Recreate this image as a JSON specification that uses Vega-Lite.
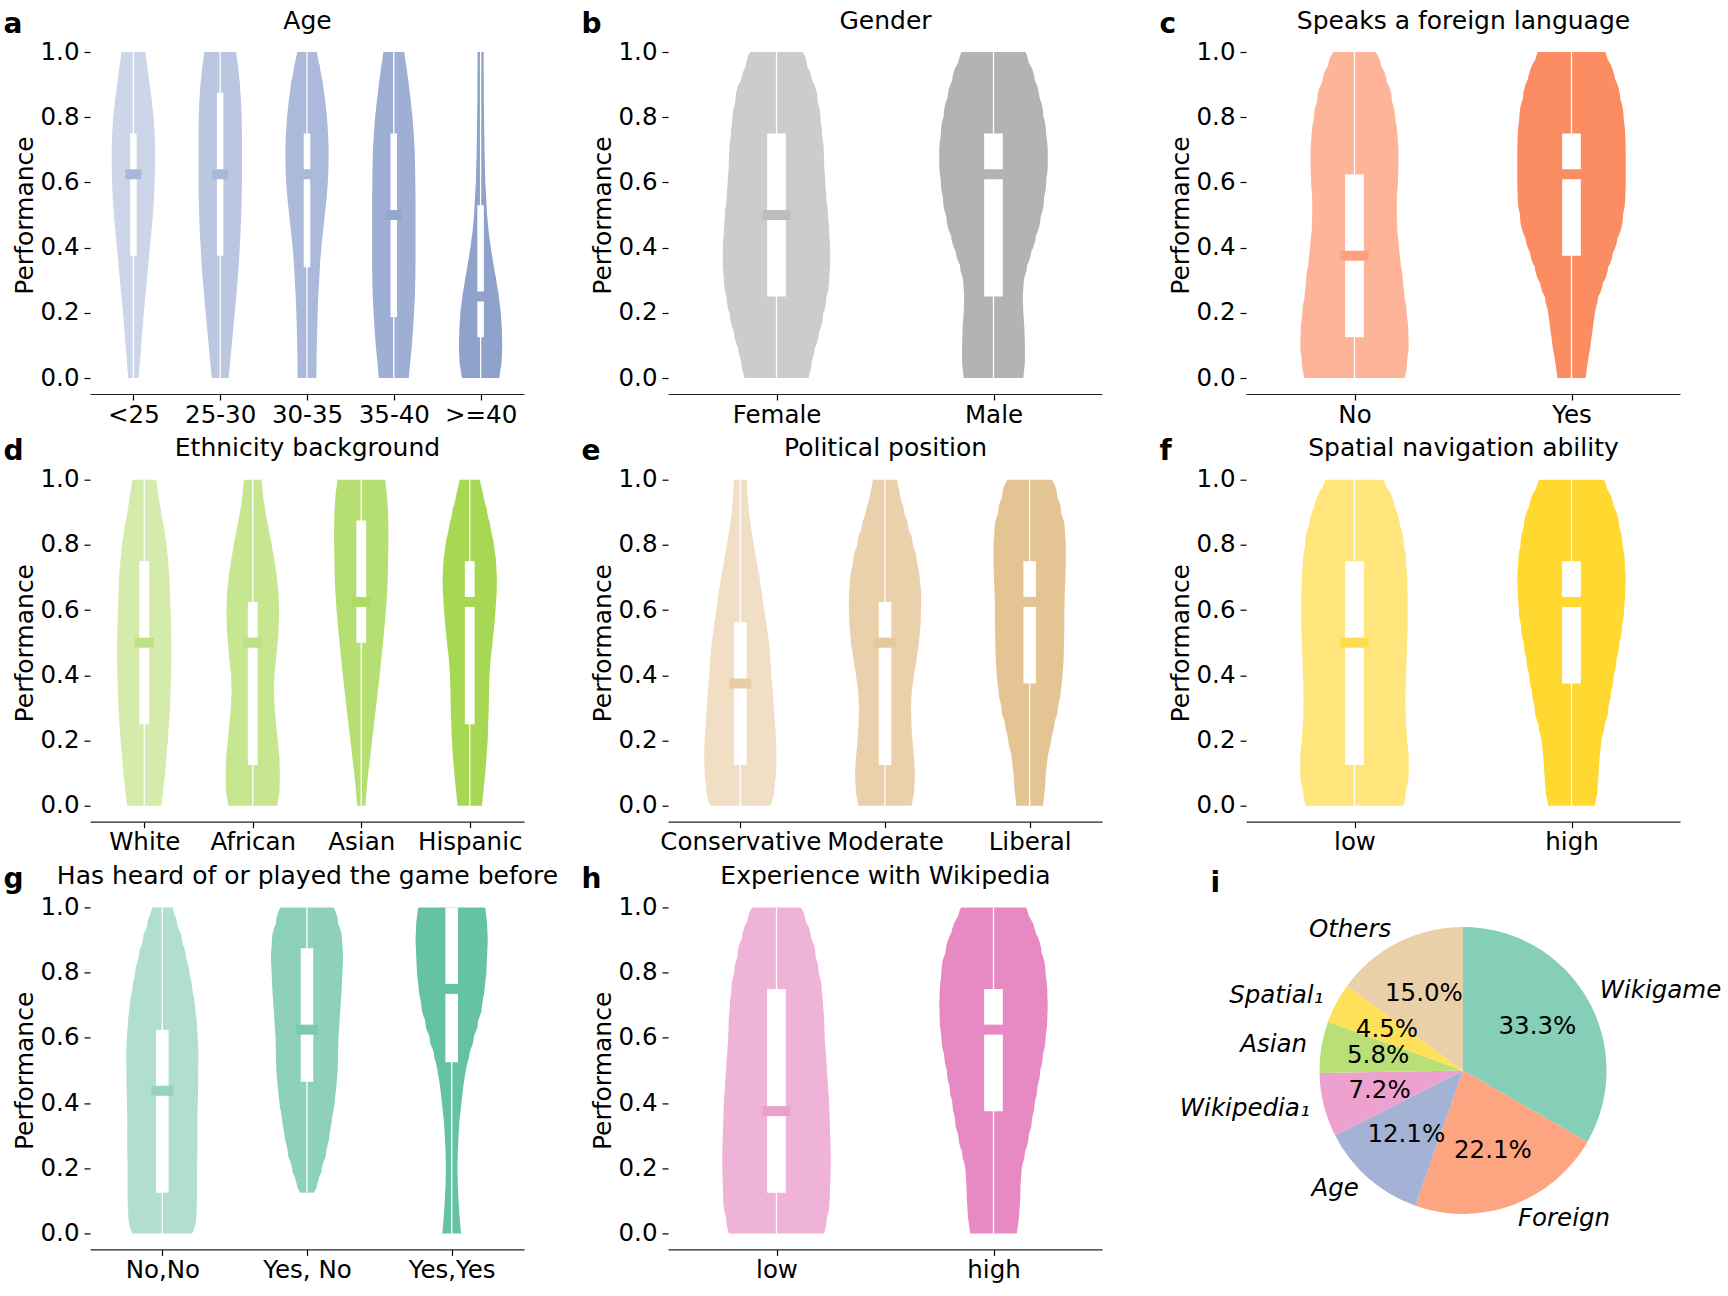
{
"$schema": "https://vega.github.io/schema/vega-lite/v6.json",
"background": "white",
"padding": {"left": 3, "top": 8, "right": 0, "bottom": 10},
"columns": 3,
"spacing": {"row": 101.7, "column": 144},
"bounds": "flush",
"resolve": {"scale": {"size": "independent", "color": "independent"}},
"config": {
 "font": "DejaVu Sans",
 "view": {"stroke": null},
 "axis": {"grid": false, "labelFontSize": 24.5, "titleFontSize": 25, "labelColor": "black", "titleColor": "black", "titleFontWeight": "normal", "tickColor": "black", "domainColor": "#222222", "tickSize": 6, "tickWidth": 1.2, "domainWidth": 1.2, "labelFont": "DejaVu Sans", "titleFont": "DejaVu Sans"},
 "title": {"font": "DejaVu Sans", "color": "black"},
 "text": {"font": "DejaVu Sans"}
},
"datasets": {
 "va": [
  {"c":"<25","v":0,"w":0.24},{"c":"<25","v":0.05,"w":0.3},{"c":"<25","v":0.1,"w":0.36},{"c":"<25","v":0.15,"w":0.42},{"c":"<25","v":0.2,"w":0.48},{"c":"<25","v":0.25,"w":0.55},{"c":"<25","v":0.3,"w":0.62},{"c":"<25","v":0.35,"w":0.69},{"c":"<25","v":0.4,"w":0.76},{"c":"<25","v":0.45,"w":0.83},{"c":"<25","v":0.5,"w":0.9},{"c":"<25","v":0.55,"w":0.95},{"c":"<25","v":0.6,"w":0.98},{"c":"<25","v":0.65,"w":1.0},{"c":"<25","v":0.7,"w":1.0},{"c":"<25","v":0.75,"w":0.98},{"c":"<25","v":0.8,"w":0.93},{"c":"<25","v":0.85,"w":0.85},{"c":"<25","v":0.9,"w":0.75},{"c":"<25","v":0.95,"w":0.65},{"c":"<25","v":1,"w":0.55},
  {"c":"25-30","v":0,"w":0.39},{"c":"25-30","v":0.05,"w":0.46},{"c":"25-30","v":0.1,"w":0.53},{"c":"25-30","v":0.15,"w":0.6},{"c":"25-30","v":0.2,"w":0.67},{"c":"25-30","v":0.25,"w":0.74},{"c":"25-30","v":0.3,"w":0.8},{"c":"25-30","v":0.35,"w":0.86},{"c":"25-30","v":0.4,"w":0.9},{"c":"25-30","v":0.45,"w":0.94},{"c":"25-30","v":0.5,"w":0.97},{"c":"25-30","v":0.55,"w":0.99},{"c":"25-30","v":0.6,"w":1.0},{"c":"25-30","v":0.65,"w":1.0},{"c":"25-30","v":0.7,"w":1.0},{"c":"25-30","v":0.75,"w":1.0},{"c":"25-30","v":0.8,"w":0.99},{"c":"25-30","v":0.85,"w":0.96},{"c":"25-30","v":0.9,"w":0.91},{"c":"25-30","v":0.95,"w":0.83},{"c":"25-30","v":1,"w":0.73},
  {"c":"30-35","v":0,"w":0.43},{"c":"30-35","v":0.05,"w":0.44},{"c":"30-35","v":0.1,"w":0.45},{"c":"30-35","v":0.15,"w":0.47},{"c":"30-35","v":0.2,"w":0.49},{"c":"30-35","v":0.25,"w":0.52},{"c":"30-35","v":0.3,"w":0.56},{"c":"30-35","v":0.35,"w":0.6},{"c":"30-35","v":0.4,"w":0.66},{"c":"30-35","v":0.45,"w":0.74},{"c":"30-35","v":0.5,"w":0.82},{"c":"30-35","v":0.55,"w":0.9},{"c":"30-35","v":0.6,"w":0.96},{"c":"30-35","v":0.65,"w":0.99},{"c":"30-35","v":0.7,"w":1.0},{"c":"30-35","v":0.75,"w":0.97},{"c":"30-35","v":0.8,"w":0.92},{"c":"30-35","v":0.85,"w":0.84},{"c":"30-35","v":0.9,"w":0.74},{"c":"30-35","v":0.95,"w":0.6},{"c":"30-35","v":1,"w":0.45},
  {"c":"35-40","v":0,"w":0.69},{"c":"35-40","v":0.05,"w":0.76},{"c":"35-40","v":0.1,"w":0.83},{"c":"35-40","v":0.15,"w":0.89},{"c":"35-40","v":0.2,"w":0.93},{"c":"35-40","v":0.25,"w":0.97},{"c":"35-40","v":0.3,"w":0.99},{"c":"35-40","v":0.35,"w":1.0},{"c":"35-40","v":0.4,"w":1.0},{"c":"35-40","v":0.45,"w":1.0},{"c":"35-40","v":0.5,"w":1.0},{"c":"35-40","v":0.55,"w":1.0},{"c":"35-40","v":0.6,"w":0.99},{"c":"35-40","v":0.65,"w":0.98},{"c":"35-40","v":0.7,"w":0.96},{"c":"35-40","v":0.75,"w":0.92},{"c":"35-40","v":0.8,"w":0.86},{"c":"35-40","v":0.85,"w":0.78},{"c":"35-40","v":0.9,"w":0.69},{"c":"35-40","v":0.95,"w":0.59},{"c":"35-40","v":1,"w":0.48},
  {"c":">=40","v":0,"w":0.86},{"c":">=40","v":0.05,"w":0.97},{"c":">=40","v":0.1,"w":1.0},{"c":">=40","v":0.15,"w":0.98},{"c":">=40","v":0.2,"w":0.93},{"c":">=40","v":0.25,"w":0.84},{"c":">=40","v":0.3,"w":0.72},{"c":">=40","v":0.35,"w":0.59},{"c":">=40","v":0.4,"w":0.47},{"c":">=40","v":0.45,"w":0.37},{"c":">=40","v":0.5,"w":0.3},{"c":">=40","v":0.55,"w":0.26},{"c":">=40","v":0.6,"w":0.22},{"c":">=40","v":0.65,"w":0.2},{"c":">=40","v":0.7,"w":0.18},{"c":">=40","v":0.75,"w":0.17},{"c":">=40","v":0.8,"w":0.16},{"c":">=40","v":0.85,"w":0.15},{"c":">=40","v":0.9,"w":0.15},{"c":">=40","v":0.95,"w":0.14},{"c":">=40","v":1,"w":0.14}
 ],
 "sa": [
  {"c":"<25","lo":0,"q1":0.375,"med":0.625,"q3":0.75,"hi":1},
  {"c":"25-30","lo":0,"q1":0.375,"med":0.625,"q3":0.875,"hi":1},
  {"c":"30-35","lo":0,"q1":0.34,"med":0.625,"q3":0.75,"hi":1},
  {"c":"35-40","lo":0,"q1":0.1875,"med":0.5,"q3":0.75,"hi":1},
  {"c":">=40","lo":0,"q1":0.125,"med":0.25,"q3":0.53,"hi":1}
 ],
 "vb": [
  {"c":"Female","v":0,"w":0.59},{"c":"Female","v":0.05,"w":0.65},{"c":"Female","v":0.1,"w":0.71},{"c":"Female","v":0.15,"w":0.79},{"c":"Female","v":0.2,"w":0.86},{"c":"Female","v":0.25,"w":0.92},{"c":"Female","v":0.3,"w":0.97},{"c":"Female","v":0.35,"w":0.99},{"c":"Female","v":0.4,"w":0.99},{"c":"Female","v":0.45,"w":0.97},{"c":"Female","v":0.5,"w":0.95},{"c":"Female","v":0.55,"w":0.92},{"c":"Female","v":0.6,"w":0.9},{"c":"Female","v":0.65,"w":0.88},{"c":"Female","v":0.7,"w":0.87},{"c":"Female","v":0.75,"w":0.84},{"c":"Female","v":0.8,"w":0.81},{"c":"Female","v":0.85,"w":0.76},{"c":"Female","v":0.9,"w":0.66},{"c":"Female","v":0.95,"w":0.57},{"c":"Female","v":1,"w":0.47},
  {"c":"Male","v":0,"w":0.55},{"c":"Male","v":0.05,"w":0.58},{"c":"Male","v":0.1,"w":0.58},{"c":"Male","v":0.15,"w":0.57},{"c":"Male","v":0.2,"w":0.55},{"c":"Male","v":0.25,"w":0.54},{"c":"Male","v":0.3,"w":0.56},{"c":"Male","v":0.35,"w":0.62},{"c":"Male","v":0.4,"w":0.7},{"c":"Male","v":0.45,"w":0.79},{"c":"Male","v":0.5,"w":0.87},{"c":"Male","v":0.55,"w":0.93},{"c":"Male","v":0.6,"w":0.97},{"c":"Male","v":0.65,"w":1.0},{"c":"Male","v":0.7,"w":1.0},{"c":"Male","v":0.75,"w":0.97},{"c":"Male","v":0.8,"w":0.92},{"c":"Male","v":0.85,"w":0.85},{"c":"Male","v":0.9,"w":0.77},{"c":"Male","v":0.95,"w":0.66},{"c":"Male","v":1,"w":0.54}
 ],
 "sb": [
  {"c":"Female","lo":0,"q1":0.25,"med":0.5,"q3":0.75,"hi":1},
  {"c":"Male","lo":0,"q1":0.25,"med":0.625,"q3":0.75,"hi":1}
 ],
 "vc": [
  {"c":"No","v":0,"w":0.88},{"c":"No","v":0.05,"w":0.97},{"c":"No","v":0.1,"w":1.0},{"c":"No","v":0.15,"w":0.99},{"c":"No","v":0.2,"w":0.96},{"c":"No","v":0.25,"w":0.92},{"c":"No","v":0.3,"w":0.89},{"c":"No","v":0.35,"w":0.85},{"c":"No","v":0.4,"w":0.82},{"c":"No","v":0.45,"w":0.79},{"c":"No","v":0.5,"w":0.78},{"c":"No","v":0.55,"w":0.78},{"c":"No","v":0.6,"w":0.8},{"c":"No","v":0.65,"w":0.81},{"c":"No","v":0.7,"w":0.81},{"c":"No","v":0.75,"w":0.79},{"c":"No","v":0.8,"w":0.75},{"c":"No","v":0.85,"w":0.69},{"c":"No","v":0.9,"w":0.6},{"c":"No","v":0.95,"w":0.49},{"c":"No","v":1,"w":0.36},
  {"c":"Yes","v":0,"w":0.26},{"c":"Yes","v":0.05,"w":0.3},{"c":"Yes","v":0.1,"w":0.35},{"c":"Yes","v":0.15,"w":0.39},{"c":"Yes","v":0.2,"w":0.43},{"c":"Yes","v":0.25,"w":0.49},{"c":"Yes","v":0.3,"w":0.58},{"c":"Yes","v":0.35,"w":0.68},{"c":"Yes","v":0.4,"w":0.77},{"c":"Yes","v":0.45,"w":0.86},{"c":"Yes","v":0.5,"w":0.95},{"c":"Yes","v":0.55,"w":0.99},{"c":"Yes","v":0.6,"w":1.0},{"c":"Yes","v":0.65,"w":1.0},{"c":"Yes","v":0.7,"w":1.0},{"c":"Yes","v":0.75,"w":0.99},{"c":"Yes","v":0.8,"w":0.96},{"c":"Yes","v":0.85,"w":0.9},{"c":"Yes","v":0.9,"w":0.81},{"c":"Yes","v":0.95,"w":0.69},{"c":"Yes","v":1,"w":0.54}
 ],
 "sc": [
  {"c":"No","lo":0,"q1":0.125,"med":0.375,"q3":0.625,"hi":1},
  {"c":"Yes","lo":0,"q1":0.375,"med":0.625,"q3":0.75,"hi":1}
 ],
 "vd": [
  {"c":"White","v":0,"w":0.63},{"c":"White","v":0.05,"w":0.7},{"c":"White","v":0.1,"w":0.77},{"c":"White","v":0.15,"w":0.82},{"c":"White","v":0.2,"w":0.87},{"c":"White","v":0.25,"w":0.91},{"c":"White","v":0.3,"w":0.95},{"c":"White","v":0.35,"w":0.97},{"c":"White","v":0.4,"w":0.99},{"c":"White","v":0.45,"w":1.0},{"c":"White","v":0.5,"w":1.0},{"c":"White","v":0.55,"w":0.99},{"c":"White","v":0.6,"w":0.97},{"c":"White","v":0.65,"w":0.95},{"c":"White","v":0.7,"w":0.93},{"c":"White","v":0.75,"w":0.88},{"c":"White","v":0.8,"w":0.82},{"c":"White","v":0.85,"w":0.73},{"c":"White","v":0.9,"w":0.62},{"c":"White","v":0.95,"w":0.53},{"c":"White","v":1,"w":0.44},
  {"c":"African","v":0,"w":0.9},{"c":"African","v":0.05,"w":0.99},{"c":"African","v":0.1,"w":1.0},{"c":"African","v":0.15,"w":0.98},{"c":"African","v":0.2,"w":0.92},{"c":"African","v":0.25,"w":0.86},{"c":"African","v":0.3,"w":0.81},{"c":"African","v":0.35,"w":0.78},{"c":"African","v":0.4,"w":0.8},{"c":"African","v":0.45,"w":0.86},{"c":"African","v":0.5,"w":0.92},{"c":"African","v":0.55,"w":0.96},{"c":"African","v":0.6,"w":0.97},{"c":"African","v":0.65,"w":0.95},{"c":"African","v":0.7,"w":0.89},{"c":"African","v":0.75,"w":0.8},{"c":"African","v":0.8,"w":0.7},{"c":"African","v":0.85,"w":0.58},{"c":"African","v":0.9,"w":0.47},{"c":"African","v":0.95,"w":0.38},{"c":"African","v":1,"w":0.33},
  {"c":"Asian","v":0,"w":0.15},{"c":"Asian","v":0.05,"w":0.2},{"c":"Asian","v":0.1,"w":0.26},{"c":"Asian","v":0.15,"w":0.33},{"c":"Asian","v":0.2,"w":0.4},{"c":"Asian","v":0.25,"w":0.47},{"c":"Asian","v":0.3,"w":0.54},{"c":"Asian","v":0.35,"w":0.61},{"c":"Asian","v":0.4,"w":0.68},{"c":"Asian","v":0.45,"w":0.74},{"c":"Asian","v":0.5,"w":0.8},{"c":"Asian","v":0.55,"w":0.86},{"c":"Asian","v":0.6,"w":0.91},{"c":"Asian","v":0.65,"w":0.95},{"c":"Asian","v":0.7,"w":0.98},{"c":"Asian","v":0.75,"w":0.99},{"c":"Asian","v":0.8,"w":1.0},{"c":"Asian","v":0.85,"w":1.0},{"c":"Asian","v":0.9,"w":0.99},{"c":"Asian","v":0.95,"w":0.95},{"c":"Asian","v":1,"w":0.88},
  {"c":"Hispanic","v":0,"w":0.45},{"c":"Hispanic","v":0.05,"w":0.51},{"c":"Hispanic","v":0.1,"w":0.57},{"c":"Hispanic","v":0.15,"w":0.62},{"c":"Hispanic","v":0.2,"w":0.66},{"c":"Hispanic","v":0.25,"w":0.68},{"c":"Hispanic","v":0.3,"w":0.7},{"c":"Hispanic","v":0.35,"w":0.71},{"c":"Hispanic","v":0.4,"w":0.73},{"c":"Hispanic","v":0.45,"w":0.77},{"c":"Hispanic","v":0.5,"w":0.84},{"c":"Hispanic","v":0.55,"w":0.9},{"c":"Hispanic","v":0.6,"w":0.95},{"c":"Hispanic","v":0.65,"w":0.99},{"c":"Hispanic","v":0.7,"w":1.0},{"c":"Hispanic","v":0.75,"w":0.97},{"c":"Hispanic","v":0.8,"w":0.89},{"c":"Hispanic","v":0.85,"w":0.77},{"c":"Hispanic","v":0.9,"w":0.64},{"c":"Hispanic","v":0.95,"w":0.5},{"c":"Hispanic","v":1,"w":0.37}
 ],
 "sd": [
  {"c":"White","lo":0,"q1":0.25,"med":0.5,"q3":0.75,"hi":1},
  {"c":"African","lo":0,"q1":0.125,"med":0.5,"q3":0.625,"hi":1},
  {"c":"Asian","lo":0,"q1":0.5,"med":0.625,"q3":0.875,"hi":1},
  {"c":"Hispanic","lo":0,"q1":0.25,"med":0.625,"q3":0.75,"hi":1}
 ],
 "ve": [
  {"c":"Conservative","v":0,"w":0.77},{"c":"Conservative","v":0.05,"w":0.94},{"c":"Conservative","v":0.1,"w":0.99},{"c":"Conservative","v":0.15,"w":1.0},{"c":"Conservative","v":0.2,"w":0.99},{"c":"Conservative","v":0.25,"w":0.96},{"c":"Conservative","v":0.3,"w":0.93},{"c":"Conservative","v":0.35,"w":0.9},{"c":"Conservative","v":0.4,"w":0.86},{"c":"Conservative","v":0.45,"w":0.83},{"c":"Conservative","v":0.5,"w":0.79},{"c":"Conservative","v":0.55,"w":0.73},{"c":"Conservative","v":0.6,"w":0.66},{"c":"Conservative","v":0.65,"w":0.6},{"c":"Conservative","v":0.7,"w":0.53},{"c":"Conservative","v":0.75,"w":0.45},{"c":"Conservative","v":0.8,"w":0.37},{"c":"Conservative","v":0.85,"w":0.3},{"c":"Conservative","v":0.9,"w":0.24},{"c":"Conservative","v":0.95,"w":0.2},{"c":"Conservative","v":1,"w":0.18},
  {"c":"Moderate","v":0,"w":0.74},{"c":"Moderate","v":0.05,"w":0.81},{"c":"Moderate","v":0.1,"w":0.83},{"c":"Moderate","v":0.15,"w":0.8},{"c":"Moderate","v":0.2,"w":0.76},{"c":"Moderate","v":0.25,"w":0.73},{"c":"Moderate","v":0.3,"w":0.72},{"c":"Moderate","v":0.35,"w":0.74},{"c":"Moderate","v":0.4,"w":0.8},{"c":"Moderate","v":0.45,"w":0.87},{"c":"Moderate","v":0.5,"w":0.94},{"c":"Moderate","v":0.55,"w":0.98},{"c":"Moderate","v":0.6,"w":1.0},{"c":"Moderate","v":0.65,"w":1.0},{"c":"Moderate","v":0.7,"w":0.96},{"c":"Moderate","v":0.75,"w":0.88},{"c":"Moderate","v":0.8,"w":0.77},{"c":"Moderate","v":0.85,"w":0.65},{"c":"Moderate","v":0.9,"w":0.53},{"c":"Moderate","v":0.95,"w":0.42},{"c":"Moderate","v":1,"w":0.33},
  {"c":"Liberal","v":0,"w":0.37},{"c":"Liberal","v":0.05,"w":0.42},{"c":"Liberal","v":0.1,"w":0.45},{"c":"Liberal","v":0.15,"w":0.5},{"c":"Liberal","v":0.2,"w":0.59},{"c":"Liberal","v":0.25,"w":0.68},{"c":"Liberal","v":0.3,"w":0.78},{"c":"Liberal","v":0.35,"w":0.86},{"c":"Liberal","v":0.4,"w":0.91},{"c":"Liberal","v":0.45,"w":0.94},{"c":"Liberal","v":0.5,"w":0.95},{"c":"Liberal","v":0.55,"w":0.96},{"c":"Liberal","v":0.6,"w":0.96},{"c":"Liberal","v":0.65,"w":0.97},{"c":"Liberal","v":0.7,"w":0.99},{"c":"Liberal","v":0.75,"w":1.0},{"c":"Liberal","v":0.8,"w":1.0},{"c":"Liberal","v":0.85,"w":0.97},{"c":"Liberal","v":0.9,"w":0.87},{"c":"Liberal","v":0.95,"w":0.76},{"c":"Liberal","v":1,"w":0.6}
 ],
 "se": [
  {"c":"Conservative","lo":0,"q1":0.125,"med":0.375,"q3":0.5625,"hi":1},
  {"c":"Moderate","lo":0,"q1":0.125,"med":0.5,"q3":0.625,"hi":1},
  {"c":"Liberal","lo":0,"q1":0.375,"med":0.625,"q3":0.75,"hi":1}
 ],
 "vf": [
  {"c":"low","v":0,"w":0.82},{"c":"low","v":0.05,"w":0.95},{"c":"low","v":0.1,"w":1.0},{"c":"low","v":0.15,"w":1.0},{"c":"low","v":0.2,"w":0.97},{"c":"low","v":0.25,"w":0.95},{"c":"low","v":0.3,"w":0.94},{"c":"low","v":0.35,"w":0.94},{"c":"low","v":0.4,"w":0.95},{"c":"low","v":0.45,"w":0.96},{"c":"low","v":0.5,"w":0.97},{"c":"low","v":0.55,"w":0.98},{"c":"low","v":0.6,"w":0.98},{"c":"low","v":0.65,"w":0.98},{"c":"low","v":0.7,"w":0.97},{"c":"low","v":0.75,"w":0.95},{"c":"low","v":0.8,"w":0.91},{"c":"low","v":0.85,"w":0.84},{"c":"low","v":0.9,"w":0.75},{"c":"low","v":0.95,"w":0.61},{"c":"low","v":1,"w":0.46},
  {"c":"high","v":0,"w":0.43},{"c":"high","v":0.05,"w":0.48},{"c":"high","v":0.1,"w":0.5},{"c":"high","v":0.15,"w":0.52},{"c":"high","v":0.2,"w":0.55},{"c":"high","v":0.25,"w":0.61},{"c":"high","v":0.3,"w":0.68},{"c":"high","v":0.35,"w":0.73},{"c":"high","v":0.4,"w":0.78},{"c":"high","v":0.45,"w":0.83},{"c":"high","v":0.5,"w":0.88},{"c":"high","v":0.55,"w":0.93},{"c":"high","v":0.6,"w":0.97},{"c":"high","v":0.65,"w":0.99},{"c":"high","v":0.7,"w":1.0},{"c":"high","v":0.75,"w":0.98},{"c":"high","v":0.8,"w":0.94},{"c":"high","v":0.85,"w":0.88},{"c":"high","v":0.9,"w":0.79},{"c":"high","v":0.95,"w":0.67},{"c":"high","v":1,"w":0.54}
 ],
 "sf": [
  {"c":"low","lo":0,"q1":0.125,"med":0.5,"q3":0.75,"hi":1},
  {"c":"high","lo":0,"q1":0.375,"med":0.625,"q3":0.75,"hi":1}
 ],
 "vg": [
  {"c":"No,No","v":0,"w":0.83},{"c":"No,No","v":0.05,"w":0.94},{"c":"No,No","v":0.1,"w":0.96},{"c":"No,No","v":0.15,"w":0.96},{"c":"No,No","v":0.2,"w":0.96},{"c":"No,No","v":0.25,"w":0.97},{"c":"No,No","v":0.3,"w":0.97},{"c":"No,No","v":0.35,"w":0.97},{"c":"No,No","v":0.4,"w":0.98},{"c":"No,No","v":0.45,"w":0.99},{"c":"No,No","v":0.5,"w":0.99},{"c":"No,No","v":0.55,"w":1.0},{"c":"No,No","v":0.6,"w":0.98},{"c":"No,No","v":0.65,"w":0.95},{"c":"No,No","v":0.7,"w":0.9},{"c":"No,No","v":0.75,"w":0.83},{"c":"No,No","v":0.8,"w":0.75},{"c":"No,No","v":0.85,"w":0.65},{"c":"No,No","v":0.9,"w":0.54},{"c":"No,No","v":0.95,"w":0.41},{"c":"No,No","v":1,"w":0.28},
  {"c":"Yes, No","v":0.125,"w":0.2},{"c":"Yes, No","v":0.15,"w":0.28},{"c":"Yes, No","v":0.2,"w":0.41},{"c":"Yes, No","v":0.25,"w":0.53},{"c":"Yes, No","v":0.3,"w":0.62},{"c":"Yes, No","v":0.35,"w":0.69},{"c":"Yes, No","v":0.4,"w":0.76},{"c":"Yes, No","v":0.45,"w":0.81},{"c":"Yes, No","v":0.5,"w":0.85},{"c":"Yes, No","v":0.55,"w":0.86},{"c":"Yes, No","v":0.6,"w":0.87},{"c":"Yes, No","v":0.65,"w":0.9},{"c":"Yes, No","v":0.7,"w":0.93},{"c":"Yes, No","v":0.75,"w":0.96},{"c":"Yes, No","v":0.8,"w":0.98},{"c":"Yes, No","v":0.85,"w":1.0},{"c":"Yes, No","v":0.9,"w":0.97},{"c":"Yes, No","v":0.95,"w":0.86},{"c":"Yes, No","v":1,"w":0.58},
  {"c":"Yes,Yes","v":0,"w":0.26},{"c":"Yes,Yes","v":0.05,"w":0.22},{"c":"Yes,Yes","v":0.1,"w":0.19},{"c":"Yes,Yes","v":0.15,"w":0.17},{"c":"Yes,Yes","v":0.2,"w":0.16},{"c":"Yes,Yes","v":0.25,"w":0.17},{"c":"Yes,Yes","v":0.3,"w":0.19},{"c":"Yes,Yes","v":0.35,"w":0.22},{"c":"Yes,Yes","v":0.4,"w":0.27},{"c":"Yes,Yes","v":0.45,"w":0.32},{"c":"Yes,Yes","v":0.5,"w":0.39},{"c":"Yes,Yes","v":0.55,"w":0.49},{"c":"Yes,Yes","v":0.6,"w":0.61},{"c":"Yes,Yes","v":0.65,"w":0.73},{"c":"Yes,Yes","v":0.7,"w":0.84},{"c":"Yes,Yes","v":0.75,"w":0.91},{"c":"Yes,Yes","v":0.8,"w":0.96},{"c":"Yes,Yes","v":0.85,"w":0.98},{"c":"Yes,Yes","v":0.9,"w":1.0},{"c":"Yes,Yes","v":0.95,"w":0.98},{"c":"Yes,Yes","v":1,"w":0.93}
 ],
 "sg": [
  {"c":"No,No","lo":0,"q1":0.125,"med":0.4375,"q3":0.625,"hi":1},
  {"c":"Yes, No","lo":0.125,"q1":0.465,"med":0.625,"q3":0.875,"hi":1},
  {"c":"Yes,Yes","lo":0,"q1":0.525,"med":0.75,"q3":1,"hi":1}
 ],
 "vh": [
  {"c":"low","v":0,"w":0.78},{"c":"low","v":0.05,"w":0.93},{"c":"low","v":0.1,"w":0.98},{"c":"low","v":0.15,"w":0.99},{"c":"low","v":0.2,"w":1.0},{"c":"low","v":0.25,"w":1.0},{"c":"low","v":0.3,"w":0.99},{"c":"low","v":0.35,"w":0.98},{"c":"low","v":0.4,"w":0.97},{"c":"low","v":0.45,"w":0.95},{"c":"low","v":0.5,"w":0.93},{"c":"low","v":0.55,"w":0.91},{"c":"low","v":0.6,"w":0.89},{"c":"low","v":0.65,"w":0.88},{"c":"low","v":0.7,"w":0.86},{"c":"low","v":0.75,"w":0.83},{"c":"low","v":0.8,"w":0.78},{"c":"low","v":0.85,"w":0.72},{"c":"low","v":0.9,"w":0.64},{"c":"low","v":0.95,"w":0.54},{"c":"low","v":1,"w":0.43},
  {"c":"high","v":0,"w":0.43},{"c":"high","v":0.05,"w":0.47},{"c":"high","v":0.1,"w":0.49},{"c":"high","v":0.15,"w":0.5},{"c":"high","v":0.2,"w":0.52},{"c":"high","v":0.25,"w":0.58},{"c":"high","v":0.3,"w":0.65},{"c":"high","v":0.35,"w":0.71},{"c":"high","v":0.4,"w":0.76},{"c":"high","v":0.45,"w":0.81},{"c":"high","v":0.5,"w":0.86},{"c":"high","v":0.55,"w":0.91},{"c":"high","v":0.6,"w":0.96},{"c":"high","v":0.65,"w":0.99},{"c":"high","v":0.7,"w":1.0},{"c":"high","v":0.75,"w":0.99},{"c":"high","v":0.8,"w":0.96},{"c":"high","v":0.85,"w":0.89},{"c":"high","v":0.9,"w":0.79},{"c":"high","v":0.95,"w":0.67},{"c":"high","v":1,"w":0.53}
 ],
 "sh": [
  {"c":"low","lo":0,"q1":0.125,"med":0.375,"q3":0.75,"hi":1},
  {"c":"high","lo":0,"q1":0.375,"med":0.625,"q3":0.75,"hi":1}
 ],
 "pie": [
  {"label":"Wikigame","share":0.333,"k":1},
  {"label":"Foreign","share":0.221,"k":2},
  {"label":"Age","share":0.121,"k":3},
  {"label":"Wikipedia₁","share":0.072,"k":4},
  {"label":"Asian","share":0.058,"k":5},
  {"label":"Spatial₁","share":0.045,"k":6},
  {"label":"Others","share":0.15,"k":7}
 ]
},
"concat": [
 {
  "width": 434, "height": 326,
  "resolve": {"axis": {"x": "independent"}, "scale": {"color": "independent"}},
  "layer": [
   {"data": {"name": "va"}, "mark": {"type": "trail", "clip": true},
    "encoding": {
     "x": {"field": "c", "type": "nominal", "scale": {"type": "point", "padding": 0.5, "domain": ["<25","25-30","30-35","35-40",">=40"]},
           "axis": {"orient": "bottom", "offset": 16, "labelAngle": 0, "labelPadding": 3, "title": "a", "titleX": -87, "titleY": -362, "titleAlign": "left", "titleBaseline": "alphabetic", "titleAngle": 0, "titleFontSize": 28, "titleFontWeight": "bold"}},
     "y": {"field": "v", "type": "quantitative", "scale": {"domain": [0,1], "nice": false, "zero": false}, "axis": {"title": "Performance", "values": [0,0.2,0.4,0.6,0.8,1], "format": ".1f", "domain": false, "labelPadding": 5, "titlePadding": 3}},
     "size": {"field": "w", "type": "quantitative", "scale": {"domain": [0,1], "range": [0,43.4]}, "legend": null},
     "color": {"field": "c", "type": "nominal", "scale": {"domain": ["<25","25-30","30-35","35-40",">=40"], "range": ["#cdd5e9","#bbc6e0","#abb9da","#9eaed4","#8fa2cb"]}, "legend": null},
     "order": {"field": "v", "type": "quantitative"}
    }},
   {"data": {"name": "sa"}, "mark": {"type": "rule", "color": "white", "strokeWidth": 1.3},
    "encoding": {
     "x": {"field": "c", "type": "nominal", "scale": {"type": "point", "padding": 0.5, "domain": ["<25","25-30","30-35","35-40",">=40"]}, "axis": {"orient": "top", "domain": false, "ticks": false, "labels": false, "title": "Age", "titlePadding": 24, "titleBaseline": "alphabetic"}},
     "y": {"field": "lo", "type": "quantitative", "scale": {"domain": [0,1], "nice": false, "zero": false}, "axis": {"title": "Performance", "values": [0,0.2,0.4,0.6,0.8,1], "format": ".1f", "domain": false, "labelPadding": 5, "titlePadding": 3}}, "y2": {"field": "hi"}}},
   {"data": {"name": "sa"}, "mark": {"type": "bar", "color": "white", "size": 6.5},
    "encoding": {
     "x": {"field": "c", "type": "nominal", "scale": {"type": "point", "padding": 0.5, "domain": ["<25","25-30","30-35","35-40",">=40"]}, "axis": null},
     "y": {"field": "q1", "type": "quantitative", "scale": {"domain": [0,1], "nice": false, "zero": false}, "axis": {"title": "Performance", "values": [0,0.2,0.4,0.6,0.8,1], "format": ".1f", "domain": false, "labelPadding": 5, "titlePadding": 3}}, "y2": {"field": "q3"}}},
   {"data": {"name": "sa"}, "mark": {"type": "tick", "orient": "horizontal", "thickness": 10, "size": 16, "opacity": 1},
    "encoding": {
     "x": {"field": "c", "type": "nominal", "scale": {"type": "point", "padding": 0.5, "domain": ["<25","25-30","30-35","35-40",">=40"]}, "axis": null},
     "y": {"field": "med", "type": "quantitative", "scale": {"domain": [0,1], "nice": false, "zero": false}, "axis": {"title": "Performance", "values": [0,0.2,0.4,0.6,0.8,1], "format": ".1f", "domain": false, "labelPadding": 5, "titlePadding": 3}},
     "color": {"field": "c", "type": "nominal", "scale": {"domain": ["<25","25-30","30-35","35-40",">=40"], "range": ["#a9b7d9","#a9b7d9","#a9b7d9","#94a6cf","#8fa2cb"]}, "legend": null}}}
  ]
 },
 {
  "width": 434, "height": 326,
  "resolve": {"axis": {"x": "independent"}, "scale": {"color": "independent"}},
  "layer": [
   {"data": {"name": "vb"}, "mark": {"type": "trail", "clip": true},
    "encoding": {
     "x": {"field": "c", "type": "nominal", "scale": {"type": "point", "padding": 0.5, "domain": ["Female","Male"]},
           "axis": {"orient": "bottom", "offset": 16, "labelAngle": 0, "labelPadding": 3, "title": "b", "titleX": -87, "titleY": -362, "titleAlign": "left", "titleBaseline": "alphabetic", "titleAngle": 0, "titleFontSize": 28, "titleFontWeight": "bold"}},
     "y": {"field": "v", "type": "quantitative", "scale": {"domain": [0,1], "nice": false, "zero": false}, "axis": {"title": "Performance", "values": [0,0.2,0.4,0.6,0.8,1], "format": ".1f", "domain": false, "labelPadding": 5, "titlePadding": 3}},
     "size": {"field": "w", "type": "quantitative", "scale": {"domain": [0,1], "range": [0,108.5]}, "legend": null},
     "color": {"field": "c", "type": "nominal", "scale": {"domain": ["Female","Male"], "range": ["#cccccc","#b3b3b3"]}, "legend": null},
     "order": {"field": "v", "type": "quantitative"}
    }},
   {"data": {"name": "sb"}, "mark": {"type": "rule", "color": "white", "strokeWidth": 1.3},
    "encoding": {
     "x": {"field": "c", "type": "nominal", "scale": {"type": "point", "padding": 0.5, "domain": ["Female","Male"]}, "axis": {"orient": "top", "domain": false, "ticks": false, "labels": false, "title": "Gender", "titlePadding": 24, "titleBaseline": "alphabetic"}},
     "y": {"field": "lo", "type": "quantitative", "scale": {"domain": [0,1], "nice": false, "zero": false}, "axis": {"title": "Performance", "values": [0,0.2,0.4,0.6,0.8,1], "format": ".1f", "domain": false, "labelPadding": 5, "titlePadding": 3}}, "y2": {"field": "hi"}}},
   {"data": {"name": "sb"}, "mark": {"type": "bar", "color": "white", "size": 18.7},
    "encoding": {
     "x": {"field": "c", "type": "nominal", "scale": {"type": "point", "padding": 0.5, "domain": ["Female","Male"]}, "axis": null},
     "y": {"field": "q1", "type": "quantitative", "scale": {"domain": [0,1], "nice": false, "zero": false}, "axis": {"title": "Performance", "values": [0,0.2,0.4,0.6,0.8,1], "format": ".1f", "domain": false, "labelPadding": 5, "titlePadding": 3}}, "y2": {"field": "q3"}}},
   {"data": {"name": "sb"}, "mark": {"type": "tick", "orient": "horizontal", "thickness": 10, "size": 28, "opacity": 1},
    "encoding": {
     "x": {"field": "c", "type": "nominal", "scale": {"type": "point", "padding": 0.5, "domain": ["Female","Male"]}, "axis": null},
     "y": {"field": "med", "type": "quantitative", "scale": {"domain": [0,1], "nice": false, "zero": false}, "axis": {"title": "Performance", "values": [0,0.2,0.4,0.6,0.8,1], "format": ".1f", "domain": false, "labelPadding": 5, "titlePadding": 3}},
     "color": {"field": "c", "type": "nominal", "scale": {"domain": ["Female","Male"], "range": ["#bdbdbd","#b3b3b3"]}, "legend": null}}}
  ]
 },
 {
  "width": 434, "height": 326,
  "resolve": {"axis": {"x": "independent"}, "scale": {"color": "independent"}},
  "layer": [
   {"data": {"name": "vc"}, "mark": {"type": "trail", "clip": true},
    "encoding": {
     "x": {"field": "c", "type": "nominal", "scale": {"type": "point", "padding": 0.5, "domain": ["No","Yes"]},
           "axis": {"orient": "bottom", "offset": 16, "labelAngle": 0, "labelPadding": 3, "title": "c", "titleX": -87, "titleY": -362, "titleAlign": "left", "titleBaseline": "alphabetic", "titleAngle": 0, "titleFontSize": 28, "titleFontWeight": "bold"}},
     "y": {"field": "v", "type": "quantitative", "scale": {"domain": [0,1], "nice": false, "zero": false}, "axis": {"title": "Performance", "values": [0,0.2,0.4,0.6,0.8,1], "format": ".1f", "domain": false, "labelPadding": 5, "titlePadding": 3}},
     "size": {"field": "w", "type": "quantitative", "scale": {"domain": [0,1], "range": [0,108.5]}, "legend": null},
     "color": {"field": "c", "type": "nominal", "scale": {"domain": ["No","Yes"], "range": ["#fdb499","#fc8d62"]}, "legend": null},
     "order": {"field": "v", "type": "quantitative"}
    }},
   {"data": {"name": "sc"}, "mark": {"type": "rule", "color": "white", "strokeWidth": 1.3},
    "encoding": {
     "x": {"field": "c", "type": "nominal", "scale": {"type": "point", "padding": 0.5, "domain": ["No","Yes"]}, "axis": {"orient": "top", "domain": false, "ticks": false, "labels": false, "title": "Speaks a foreign language", "titlePadding": 24, "titleBaseline": "alphabetic"}},
     "y": {"field": "lo", "type": "quantitative", "scale": {"domain": [0,1], "nice": false, "zero": false}, "axis": {"title": "Performance", "values": [0,0.2,0.4,0.6,0.8,1], "format": ".1f", "domain": false, "labelPadding": 5, "titlePadding": 3}}, "y2": {"field": "hi"}}},
   {"data": {"name": "sc"}, "mark": {"type": "bar", "color": "white", "size": 18.7},
    "encoding": {
     "x": {"field": "c", "type": "nominal", "scale": {"type": "point", "padding": 0.5, "domain": ["No","Yes"]}, "axis": null},
     "y": {"field": "q1", "type": "quantitative", "scale": {"domain": [0,1], "nice": false, "zero": false}, "axis": {"title": "Performance", "values": [0,0.2,0.4,0.6,0.8,1], "format": ".1f", "domain": false, "labelPadding": 5, "titlePadding": 3}}, "y2": {"field": "q3"}}},
   {"data": {"name": "sc"}, "mark": {"type": "tick", "orient": "horizontal", "thickness": 10, "size": 28, "opacity": 1},
    "encoding": {
     "x": {"field": "c", "type": "nominal", "scale": {"type": "point", "padding": 0.5, "domain": ["No","Yes"]}, "axis": null},
     "y": {"field": "med", "type": "quantitative", "scale": {"domain": [0,1], "nice": false, "zero": false}, "axis": {"title": "Performance", "values": [0,0.2,0.4,0.6,0.8,1], "format": ".1f", "domain": false, "labelPadding": 5, "titlePadding": 3}},
     "color": {"field": "c", "type": "nominal", "scale": {"domain": ["No","Yes"], "range": ["#fca07e","#fc8d62"]}, "legend": null}}}
  ]
 },
 {
  "width": 434, "height": 326,
  "resolve": {"axis": {"x": "independent"}, "scale": {"color": "independent"}},
  "layer": [
   {"data": {"name": "vd"}, "mark": {"type": "trail", "clip": true},
    "encoding": {
     "x": {"field": "c", "type": "nominal", "scale": {"type": "point", "padding": 0.5, "domain": ["White","African","Asian","Hispanic"]},
           "axis": {"orient": "bottom", "offset": 16, "labelAngle": 0, "labelPadding": 3, "title": "d", "titleX": -87, "titleY": -362, "titleAlign": "left", "titleBaseline": "alphabetic", "titleAngle": 0, "titleFontSize": 28, "titleFontWeight": "bold"}},
     "y": {"field": "v", "type": "quantitative", "scale": {"domain": [0,1], "nice": false, "zero": false}, "axis": {"title": "Performance", "values": [0,0.2,0.4,0.6,0.8,1], "format": ".1f", "domain": false, "labelPadding": 5, "titlePadding": 3}},
     "size": {"field": "w", "type": "quantitative", "scale": {"domain": [0,1], "range": [0,54.25]}, "legend": null},
     "color": {"field": "c", "type": "nominal", "scale": {"domain": ["White","African","Asian","Hispanic"], "range": ["#d4ebab","#c6e68f","#b5df72","#a6d854"]}, "legend": null},
     "order": {"field": "v", "type": "quantitative"}
    }},
   {"data": {"name": "sd"}, "mark": {"type": "rule", "color": "white", "strokeWidth": 1.3},
    "encoding": {
     "x": {"field": "c", "type": "nominal", "scale": {"type": "point", "padding": 0.5, "domain": ["White","African","Asian","Hispanic"]}, "axis": {"orient": "top", "domain": false, "ticks": false, "labels": false, "title": "Ethnicity background", "titlePadding": 24, "titleBaseline": "alphabetic"}},
     "y": {"field": "lo", "type": "quantitative", "scale": {"domain": [0,1], "nice": false, "zero": false}, "axis": {"title": "Performance", "values": [0,0.2,0.4,0.6,0.8,1], "format": ".1f", "domain": false, "labelPadding": 5, "titlePadding": 3}}, "y2": {"field": "hi"}}},
   {"data": {"name": "sd"}, "mark": {"type": "bar", "color": "white", "size": 9.8},
    "encoding": {
     "x": {"field": "c", "type": "nominal", "scale": {"type": "point", "padding": 0.5, "domain": ["White","African","Asian","Hispanic"]}, "axis": null},
     "y": {"field": "q1", "type": "quantitative", "scale": {"domain": [0,1], "nice": false, "zero": false}, "axis": {"title": "Performance", "values": [0,0.2,0.4,0.6,0.8,1], "format": ".1f", "domain": false, "labelPadding": 5, "titlePadding": 3}}, "y2": {"field": "q3"}}},
   {"data": {"name": "sd"}, "mark": {"type": "tick", "orient": "horizontal", "thickness": 10, "size": 19, "opacity": 1},
    "encoding": {
     "x": {"field": "c", "type": "nominal", "scale": {"type": "point", "padding": 0.5, "domain": ["White","African","Asian","Hispanic"]}, "axis": null},
     "y": {"field": "med", "type": "quantitative", "scale": {"domain": [0,1], "nice": false, "zero": false}, "axis": {"title": "Performance", "values": [0,0.2,0.4,0.6,0.8,1], "format": ".1f", "domain": false, "labelPadding": 5, "titlePadding": 3}},
     "color": {"field": "c", "type": "nominal", "scale": {"domain": ["White","African","Asian","Hispanic"], "range": ["#bee283","#bee283","#acdb64","#a6d854"]}, "legend": null}}}
  ]
 },
 {
  "width": 434, "height": 326,
  "resolve": {"axis": {"x": "independent"}, "scale": {"color": "independent"}},
  "layer": [
   {"data": {"name": "ve"}, "mark": {"type": "trail", "clip": true},
    "encoding": {
     "x": {"field": "c", "type": "nominal", "scale": {"type": "point", "padding": 0.5, "domain": ["Conservative","Moderate","Liberal"]},
           "axis": {"orient": "bottom", "offset": 16, "labelAngle": 0, "labelPadding": 3, "title": "e", "titleX": -87, "titleY": -362, "titleAlign": "left", "titleBaseline": "alphabetic", "titleAngle": 0, "titleFontSize": 28, "titleFontWeight": "bold"}},
     "y": {"field": "v", "type": "quantitative", "scale": {"domain": [0,1], "nice": false, "zero": false}, "axis": {"title": "Performance", "values": [0,0.2,0.4,0.6,0.8,1], "format": ".1f", "domain": false, "labelPadding": 5, "titlePadding": 3}},
     "size": {"field": "w", "type": "quantitative", "scale": {"domain": [0,1], "range": [0,72.3]}, "legend": null},
     "color": {"field": "c", "type": "nominal", "scale": {"domain": ["Conservative","Moderate","Liberal"], "range": ["#f1dfc5","#ebd1ab","#e5c494"]}, "legend": null},
     "order": {"field": "v", "type": "quantitative"}
    }},
   {"data": {"name": "se"}, "mark": {"type": "rule", "color": "white", "strokeWidth": 1.3},
    "encoding": {
     "x": {"field": "c", "type": "nominal", "scale": {"type": "point", "padding": 0.5, "domain": ["Conservative","Moderate","Liberal"]}, "axis": {"orient": "top", "domain": false, "ticks": false, "labels": false, "title": "Political position", "titlePadding": 24, "titleBaseline": "alphabetic"}},
     "y": {"field": "lo", "type": "quantitative", "scale": {"domain": [0,1], "nice": false, "zero": false}, "axis": {"title": "Performance", "values": [0,0.2,0.4,0.6,0.8,1], "format": ".1f", "domain": false, "labelPadding": 5, "titlePadding": 3}}, "y2": {"field": "hi"}}},
   {"data": {"name": "se"}, "mark": {"type": "bar", "color": "white", "size": 12.5},
    "encoding": {
     "x": {"field": "c", "type": "nominal", "scale": {"type": "point", "padding": 0.5, "domain": ["Conservative","Moderate","Liberal"]}, "axis": null},
     "y": {"field": "q1", "type": "quantitative", "scale": {"domain": [0,1], "nice": false, "zero": false}, "axis": {"title": "Performance", "values": [0,0.2,0.4,0.6,0.8,1], "format": ".1f", "domain": false, "labelPadding": 5, "titlePadding": 3}}, "y2": {"field": "q3"}}},
   {"data": {"name": "se"}, "mark": {"type": "tick", "orient": "horizontal", "thickness": 10, "size": 22, "opacity": 1},
    "encoding": {
     "x": {"field": "c", "type": "nominal", "scale": {"type": "point", "padding": 0.5, "domain": ["Conservative","Moderate","Liberal"]}, "axis": null},
     "y": {"field": "med", "type": "quantitative", "scale": {"domain": [0,1], "nice": false, "zero": false}, "axis": {"title": "Performance", "values": [0,0.2,0.4,0.6,0.8,1], "format": ".1f", "domain": false, "labelPadding": 5, "titlePadding": 3}},
     "color": {"field": "c", "type": "nominal", "scale": {"domain": ["Conservative","Moderate","Liberal"], "range": ["#e9cca2","#e6c89b","#e5c494"]}, "legend": null}}}
  ]
 },
 {
  "width": 434, "height": 326,
  "resolve": {"axis": {"x": "independent"}, "scale": {"color": "independent"}},
  "layer": [
   {"data": {"name": "vf"}, "mark": {"type": "trail", "clip": true},
    "encoding": {
     "x": {"field": "c", "type": "nominal", "scale": {"type": "point", "padding": 0.5, "domain": ["low","high"]},
           "axis": {"orient": "bottom", "offset": 16, "labelAngle": 0, "labelPadding": 3, "title": "f", "titleX": -87, "titleY": -362, "titleAlign": "left", "titleBaseline": "alphabetic", "titleAngle": 0, "titleFontSize": 28, "titleFontWeight": "bold"}},
     "y": {"field": "v", "type": "quantitative", "scale": {"domain": [0,1], "nice": false, "zero": false}, "axis": {"title": "Performance", "values": [0,0.2,0.4,0.6,0.8,1], "format": ".1f", "domain": false, "labelPadding": 5, "titlePadding": 3}},
     "size": {"field": "w", "type": "quantitative", "scale": {"domain": [0,1], "range": [0,108.5]}, "legend": null},
     "color": {"field": "c", "type": "nominal", "scale": {"domain": ["low","high"], "range": ["#ffe57b","#ffd92f"]}, "legend": null},
     "order": {"field": "v", "type": "quantitative"}
    }},
   {"data": {"name": "sf"}, "mark": {"type": "rule", "color": "white", "strokeWidth": 1.3},
    "encoding": {
     "x": {"field": "c", "type": "nominal", "scale": {"type": "point", "padding": 0.5, "domain": ["low","high"]}, "axis": {"orient": "top", "domain": false, "ticks": false, "labels": false, "title": "Spatial navigation ability", "titlePadding": 24, "titleBaseline": "alphabetic"}},
     "y": {"field": "lo", "type": "quantitative", "scale": {"domain": [0,1], "nice": false, "zero": false}, "axis": {"title": "Performance", "values": [0,0.2,0.4,0.6,0.8,1], "format": ".1f", "domain": false, "labelPadding": 5, "titlePadding": 3}}, "y2": {"field": "hi"}}},
   {"data": {"name": "sf"}, "mark": {"type": "bar", "color": "white", "size": 18.7},
    "encoding": {
     "x": {"field": "c", "type": "nominal", "scale": {"type": "point", "padding": 0.5, "domain": ["low","high"]}, "axis": null},
     "y": {"field": "q1", "type": "quantitative", "scale": {"domain": [0,1], "nice": false, "zero": false}, "axis": {"title": "Performance", "values": [0,0.2,0.4,0.6,0.8,1], "format": ".1f", "domain": false, "labelPadding": 5, "titlePadding": 3}}, "y2": {"field": "q3"}}},
   {"data": {"name": "sf"}, "mark": {"type": "tick", "orient": "horizontal", "thickness": 10, "size": 28, "opacity": 1},
    "encoding": {
     "x": {"field": "c", "type": "nominal", "scale": {"type": "point", "padding": 0.5, "domain": ["low","high"]}, "axis": null},
     "y": {"field": "med", "type": "quantitative", "scale": {"domain": [0,1], "nice": false, "zero": false}, "axis": {"title": "Performance", "values": [0,0.2,0.4,0.6,0.8,1], "format": ".1f", "domain": false, "labelPadding": 5, "titlePadding": 3}},
     "color": {"field": "c", "type": "nominal", "scale": {"domain": ["low","high"], "range": ["#ffdc4a","#ffd92f"]}, "legend": null}}}
  ]
 },
 {
  "width": 434, "height": 326,
  "resolve": {"axis": {"x": "independent"}, "scale": {"color": "independent"}},
  "layer": [
   {"data": {"name": "vg"}, "mark": {"type": "trail", "clip": true},
    "encoding": {
     "x": {"field": "c", "type": "nominal", "scale": {"type": "point", "padding": 0.5, "domain": ["No,No","Yes, No","Yes,Yes"]},
           "axis": {"orient": "bottom", "offset": 16, "labelAngle": 0, "labelPadding": 3, "title": "g", "titleX": -87, "titleY": -362, "titleAlign": "left", "titleBaseline": "alphabetic", "titleAngle": 0, "titleFontSize": 28, "titleFontWeight": "bold"}},
     "y": {"field": "v", "type": "quantitative", "scale": {"domain": [0,1], "nice": false, "zero": false}, "axis": {"title": "Performance", "values": [0,0.2,0.4,0.6,0.8,1], "format": ".1f", "domain": false, "labelPadding": 5, "titlePadding": 3}},
     "size": {"field": "w", "type": "quantitative", "scale": {"domain": [0,1], "range": [0,72.3]}, "legend": null},
     "color": {"field": "c", "type": "nominal", "scale": {"domain": ["No,No","Yes, No","Yes,Yes"], "range": ["#b0dfd0","#8dd1bb","#66c2a5"]}, "legend": null},
     "order": {"field": "v", "type": "quantitative"}
    }},
   {"data": {"name": "sg"}, "mark": {"type": "bar", "color": "white", "size": 24},
    "encoding": {
     "x": {"field": "c", "type": "nominal", "scale": {"type": "point", "padding": 0.5, "domain": ["No,No","Yes, No","Yes,Yes"]}, "axis": null},
     "y": {"field": "lo", "type": "quantitative", "scale": {"domain": [0,1], "nice": false, "zero": false}, "axis": {"title": "Performance", "values": [0,0.2,0.4,0.6,0.8,1], "format": ".1f", "domain": false, "labelPadding": 5, "titlePadding": 3}}, "y2": {"datum": 0}}},
   {"data": {"name": "sg"}, "mark": {"type": "rule", "color": "white", "strokeWidth": 1.3},
    "encoding": {
     "x": {"field": "c", "type": "nominal", "scale": {"type": "point", "padding": 0.5, "domain": ["No,No","Yes, No","Yes,Yes"]}, "axis": {"orient": "top", "domain": false, "ticks": false, "labels": false, "title": "Has heard of or played the game before", "titlePadding": 24, "titleBaseline": "alphabetic"}},
     "y": {"field": "lo", "type": "quantitative", "scale": {"domain": [0,1], "nice": false, "zero": false}, "axis": {"title": "Performance", "values": [0,0.2,0.4,0.6,0.8,1], "format": ".1f", "domain": false, "labelPadding": 5, "titlePadding": 3}}, "y2": {"field": "hi"}}},
   {"data": {"name": "sg"}, "mark": {"type": "bar", "color": "white", "size": 12.5},
    "encoding": {
     "x": {"field": "c", "type": "nominal", "scale": {"type": "point", "padding": 0.5, "domain": ["No,No","Yes, No","Yes,Yes"]}, "axis": null},
     "y": {"field": "q1", "type": "quantitative", "scale": {"domain": [0,1], "nice": false, "zero": false}, "axis": {"title": "Performance", "values": [0,0.2,0.4,0.6,0.8,1], "format": ".1f", "domain": false, "labelPadding": 5, "titlePadding": 3}}, "y2": {"field": "q3"}}},
   {"data": {"name": "sg"}, "mark": {"type": "tick", "orient": "horizontal", "thickness": 10, "size": 22, "opacity": 1},
    "encoding": {
     "x": {"field": "c", "type": "nominal", "scale": {"type": "point", "padding": 0.5, "domain": ["No,No","Yes, No","Yes,Yes"]}, "axis": null},
     "y": {"field": "med", "type": "quantitative", "scale": {"domain": [0,1], "nice": false, "zero": false}, "axis": {"title": "Performance", "values": [0,0.2,0.4,0.6,0.8,1], "format": ".1f", "domain": false, "labelPadding": 5, "titlePadding": 3}},
     "color": {"field": "c", "type": "nominal", "scale": {"domain": ["No,No","Yes, No","Yes,Yes"], "range": ["#94d3bf","#7ccab1","#66c2a5"]}, "legend": null}}}
  ]
 },
 {
  "width": 434, "height": 326,
  "resolve": {"axis": {"x": "independent"}, "scale": {"color": "independent"}},
  "layer": [
   {"data": {"name": "vh"}, "mark": {"type": "trail", "clip": true},
    "encoding": {
     "x": {"field": "c", "type": "nominal", "scale": {"type": "point", "padding": 0.5, "domain": ["low","high"]},
           "axis": {"orient": "bottom", "offset": 16, "labelAngle": 0, "labelPadding": 3, "title": "h", "titleX": -87, "titleY": -362, "titleAlign": "left", "titleBaseline": "alphabetic", "titleAngle": 0, "titleFontSize": 28, "titleFontWeight": "bold"}},
     "y": {"field": "v", "type": "quantitative", "scale": {"domain": [0,1], "nice": false, "zero": false}, "axis": {"title": "Performance", "values": [0,0.2,0.4,0.6,0.8,1], "format": ".1f", "domain": false, "labelPadding": 5, "titlePadding": 3}},
     "size": {"field": "w", "type": "quantitative", "scale": {"domain": [0,1], "range": [0,108.5]}, "legend": null},
     "color": {"field": "c", "type": "nominal", "scale": {"domain": ["low","high"], "range": ["#efb3d8","#e78ac3"]}, "legend": null},
     "order": {"field": "v", "type": "quantitative"}
    }},
   {"data": {"name": "sh"}, "mark": {"type": "rule", "color": "white", "strokeWidth": 1.3},
    "encoding": {
     "x": {"field": "c", "type": "nominal", "scale": {"type": "point", "padding": 0.5, "domain": ["low","high"]}, "axis": {"orient": "top", "domain": false, "ticks": false, "labels": false, "title": "Experience with Wikipedia", "titlePadding": 24, "titleBaseline": "alphabetic"}},
     "y": {"field": "lo", "type": "quantitative", "scale": {"domain": [0,1], "nice": false, "zero": false}, "axis": {"title": "Performance", "values": [0,0.2,0.4,0.6,0.8,1], "format": ".1f", "domain": false, "labelPadding": 5, "titlePadding": 3}}, "y2": {"field": "hi"}}},
   {"data": {"name": "sh"}, "mark": {"type": "bar", "color": "white", "size": 18.7},
    "encoding": {
     "x": {"field": "c", "type": "nominal", "scale": {"type": "point", "padding": 0.5, "domain": ["low","high"]}, "axis": null},
     "y": {"field": "q1", "type": "quantitative", "scale": {"domain": [0,1], "nice": false, "zero": false}, "axis": {"title": "Performance", "values": [0,0.2,0.4,0.6,0.8,1], "format": ".1f", "domain": false, "labelPadding": 5, "titlePadding": 3}}, "y2": {"field": "q3"}}},
   {"data": {"name": "sh"}, "mark": {"type": "tick", "orient": "horizontal", "thickness": 10, "size": 28, "opacity": 1},
    "encoding": {
     "x": {"field": "c", "type": "nominal", "scale": {"type": "point", "padding": 0.5, "domain": ["low","high"]}, "axis": null},
     "y": {"field": "med", "type": "quantitative", "scale": {"domain": [0,1], "nice": false, "zero": false}, "axis": {"title": "Performance", "values": [0,0.2,0.4,0.6,0.8,1], "format": ".1f", "domain": false, "labelPadding": 5, "titlePadding": 3}},
     "color": {"field": "c", "type": "nominal", "scale": {"domain": ["low","high"], "range": ["#eaa0cd","#e78ac3"]}, "legend": null}}}
  ]
 },
 {
  "width": 434, "height": 326,
  "title": {"text": "i", "anchor": "start", "frame": "group", "dx": -35.5, "offset": -13, "baseline": "alphabetic", "fontSize": 28, "fontWeight": "bold", "color": "black"},
  "data": {"name": "pie"},
  "layer": [
   {"mark": {"type": "arc", "outerRadius": 143.5},
    "encoding": {
     "theta": {"field": "share", "type": "quantitative", "stack": true},
     "order": {"field": "k", "type": "quantitative"},
     "color": {"field": "label", "type": "nominal", "scale": {"domain": ["Wikigame","Foreign","Age","Wikipedia₁","Asian","Spatial₁","Others"], "range": ["#85ceb7","#fda481","#a4b3d5","#eca1cf","#b8e076","#ffe059","#ead0a9"]}, "legend": null}
    }},
   {"mark": {"type": "text", "radius": 86, "fontSize": 24.5, "color": "black", "align": "center", "baseline": "middle"},
    "encoding": {
     "theta": {"field": "share", "type": "quantitative", "stack": true},
     "order": {"field": "k", "type": "quantitative"},
     "detail": {"field": "label", "type": "nominal"},
     "text": {"field": "share", "type": "quantitative", "format": ".1%"}
    }},
   {"mark": {"type": "text", "radius": 158, "fontSize": 24.5, "fontStyle": "italic", "color": "black", "align": "left", "baseline": "middle"},
    "encoding": {
     "theta": {"field": "share", "type": "quantitative", "stack": true},
     "order": {"field": "k", "type": "quantitative"},
     "detail": {"field": "label", "type": "nominal"},
     "text": {"condition": {"test": "datum.k <= 2", "field": "label"}, "value": ""}
    }},
   {"mark": {"type": "text", "radius": 158, "fontSize": 24.5, "fontStyle": "italic", "color": "black", "align": "right", "baseline": "middle"},
    "encoding": {
     "theta": {"field": "share", "type": "quantitative", "stack": true},
     "order": {"field": "k", "type": "quantitative"},
     "detail": {"field": "label", "type": "nominal"},
     "text": {"condition": {"test": "datum.k > 2", "field": "label"}, "value": ""}
    }}
  ]
 }
]
}
